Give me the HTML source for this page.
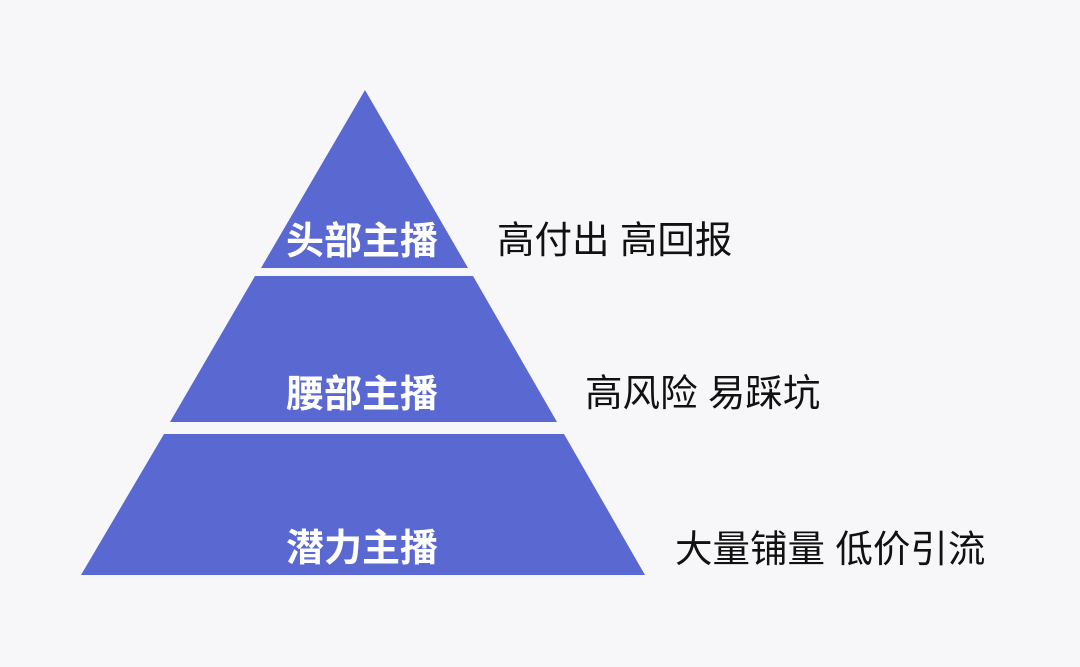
<!DOCTYPE html>
<html><head><meta charset="utf-8"><style>
html,body{margin:0;padding:0;background:#f7f7f9;}
svg{display:block}
text{font-family:"Liberation Sans","Noto Sans CJK SC",sans-serif;}
</style></head><body>
<svg width="1080" height="667" viewBox="0 0 1080 667">
<rect width="1080" height="667" fill="#f7f7f9"/>
<polygon points="365,90 468,268 261,268" fill="#5a68d2"/>
<polygon points="255,276 473,276 557,422 170,422" fill="#5a68d2"/>
<polygon points="164,434 564,434 645,575 81,575" fill="#5a68d2"/>
<g fill="#fff" font-weight="bold" font-size="38" text-anchor="middle">
<text x="362" y="254">头部主播</text>
<text x="362" y="407">腰部主播</text>
<text x="362" y="561">潜力主播</text>
</g>
<g fill="#111" font-size="37.5">
<text x="497" y="253">高付出 高回报</text>
<text x="585" y="406">高风险 易踩坑</text>
<text x="675" y="562">大量铺量 低价引流</text>
</g>
</svg>
</body></html>
